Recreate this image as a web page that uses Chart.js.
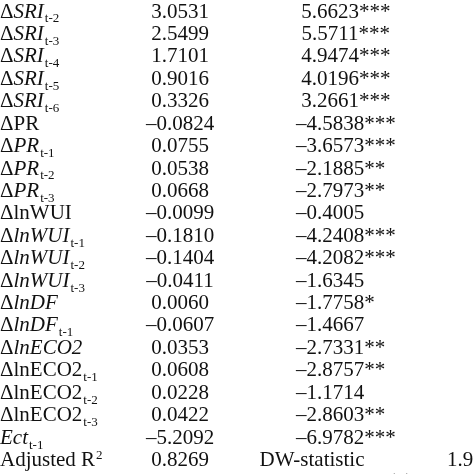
<!DOCTYPE html>
<html><head><meta charset="utf-8">
<script src="https://cdn.jsdelivr.net/npm/chart.js@4/dist/chart.umd.min.js"></script>
<style>html,body{margin:0;padding:0;background:#fff}#wrap{width:474px;height:474px}</style>
</head><body><div id="wrap"><canvas id="c"></canvas></div>
<script>
const varNames  = ['SRI','SRI','SRI','SRI','SRI','PR','PR','PR','PR','lnWUI','lnWUI','lnWUI','lnWUI','lnDF','lnDF','lnECO2','lnECO2','lnECO2','lnECO2','Ect'];
const varDelta  = [1,1,1,1,1,1,1,1,1,1,1,1,1,1,1,1,1,1,1,0];
const varItalic = [1,1,1,1,1,0,1,1,1,0,1,1,1,1,1,1,0,0,0,1];
const varLags   = ['t-2','t-3','t-4','t-5','t-6','','t-1','t-2','t-3','','t-1','t-2','t-3','','t-1','','t-1','t-2','t-3','t-1'];
const coefs     = ['3.0531','2.5499','1.7101','0.9016','0.3326','\u20130.0824','0.0755','0.0538','0.0668','\u20130.0099','\u20130.1810','\u20130.1404','\u20130.0411','0.0060','\u20130.0607','0.0353','0.0608','0.0228','0.0422','\u20135.2092'];
const tStats    = ['5.6623***','5.5711***','4.9474***','4.0196***','3.2661***','\u20134.5838***','\u20133.6573***','\u20132.1885**','\u20132.7973**','\u20130.4005','\u20134.2408***','\u20134.2082***','\u20131.6345','\u20131.7758*','\u20131.4667','\u20132.7331**','\u20132.8757**','\u20131.1714','\u20132.8603**','\u20136.9782***'];
const diagNames  = ['Adjusted R','Normality'];
const diagSup    = ['2',''];
const diagValues = ['0.8269','0.5781'];
const diag2Names = ['DW-statistic','Serial correlation X\u00b2 (2)'];
const diag2Values= ['1.9678','0.8228'];

const F = '"Liberation Serif","Times New Roman",serif';

const tablePlugin = {
  id:'table',
  afterDraw(chart){
    const ctx = chart.ctx, y = chart.scales.y, x = chart.scales.x;
    ctx.save();
    ctx.fillStyle = '#111';
    ctx.textBaseline = 'middle';
    const big = '21px ' + F, sub = '13px ' + F;
    varNames.forEach((n,i)=>{
      const py = y.getPixelForValue(i);
      let px = x.getPixelForValue(0);
      ctx.textAlign = 'left';
      if (varDelta[i]) { ctx.font = big; ctx.fillText('\u0394', px, py); px += ctx.measureText('\u0394').width; }
      ctx.font = (varItalic[i] ? 'italic ' : '') + big;
      ctx.fillText(n, px, py); px += ctx.measureText(n).width + 1;
      if (varLags[i]) { ctx.font = sub; ctx.fillText(varLags[i], px, py + 7); }
      ctx.font = big; ctx.textAlign = 'center';
      ctx.fillText(coefs[i], x.getPixelForValue(180), py);
      ctx.textAlign = 'left';
      const w = ctx.measureText(tStats[i].replace(/\*+$/,'')).width;
      ctx.fillText(tStats[i], x.getPixelForValue(330) - w/2, py);
    });
    diagNames.forEach((n,j)=>{
      const py = y.getPixelForValue(varNames.length + j);
      ctx.font = big; ctx.textAlign = 'left';
      const px = x.getPixelForValue(0);
      ctx.fillText(n, px, py);
      const w = ctx.measureText(n).width;
      if (diagSup[j]) { ctx.font = sub; ctx.fillText(diagSup[j], px + w + 1, py - 5); ctx.font = big; }
      ctx.textAlign = 'center';
      ctx.fillText(diagValues[j], x.getPixelForValue(180), py);
      ctx.fillText(diag2Names[j], x.getPixelForValue(312), py);
      ctx.textAlign = 'left';
      ctx.fillText(diag2Values[j], x.getPixelForValue(447), py);
    });
    ctx.restore();
  }
};

new Chart(document.getElementById('c'), {
  type:'scatter',
  data:{datasets:[{data:[], pointRadius:0}]},
  options:{
    responsive:true, maintainAspectRatio:false, animation:false,
    layout:{padding:0},
    plugins:{legend:{display:false}, tooltip:{enabled:false}},
    scales:{
      x:{type:'linear', min:0, max:474, display:false},
      y:{type:'linear', min:-0.535, max:20.6, reverse:true, display:false}
    }
  },
  plugins:[tablePlugin]
});
</script></body></html>
